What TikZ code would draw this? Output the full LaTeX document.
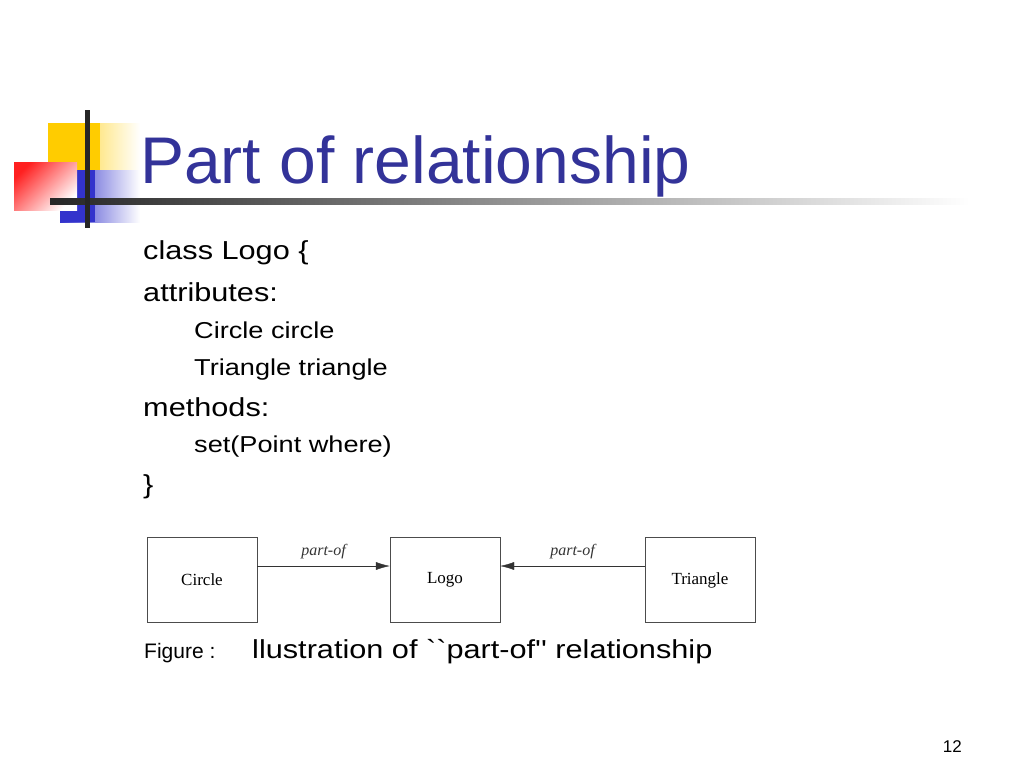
\documentclass[tikz,border=0pt]{standalone}
\usepackage{fontspec}
\setmainfont{Liberation Sans}
\newfontfamily\bodyfont{Liberation Sans}[FakeStretch=1.18]
\newfontfamily\figfont{Liberation Serif}
\usetikzlibrary{positioning, arrows.meta}
\definecolor{TitleBlue}{HTML}{333399}
\definecolor{DecoYellow}{HTML}{FFCC00}
\definecolor{DecoRed}{HTML}{FF2020}
\definecolor{DecoBlue}{HTML}{3333CC}
\tikzset{
  classbox/.style={draw=black!70, minimum width=110pt, minimum height=85pt, inner sep=0pt, font=\fontsize{17}{17}\selectfont\figfont},
  partof/.style={-{Latex[length=14pt,width=8pt]}, black!80},
  body/.style={anchor=base west, inner sep=0pt, font=\fontsize{26}{26}\selectfont\bodyfont},
  sub/.style={anchor=base west, inner sep=0pt, font=\fontsize{23}{23}\selectfont\bodyfont}
}
\begin{document}
\begin{tikzpicture}[x=1pt, y=-1pt]
  \useasboundingbox (0,0) rectangle (1024,768);
  % corner decoration
  \shade[left color=DecoYellow, right color=white] (48,123) rectangle (140,190);
  \fill[DecoYellow] (48,123) rectangle (100,190);
  \shade[left color=DecoBlue, right color=white] (60,170) rectangle (140,222);
  \fill[DecoBlue] (60,170) rectangle (95,222);
  \shade[top color=DecoRed, bottom color=white, shading angle=45] (14,162) rectangle (77,210);
  \shade[left color=black!85, right color=white] (50,198) rectangle (970,204);
  \fill[black!85] (85,110) rectangle (90,228);
  % title
  \node[anchor=base west, inner sep=0pt, text=TitleBlue, font=\fontsize{66}{66}\selectfont] (title) at (140,183) {Part of relationship};
  % class text
  \node[body] (l1) at (143,259) {class Logo \{};
  \node[body] (l2) at (143,301) {attributes:};
  \node[sub] (l3) at (194,338) {Circle circle};
  \node[sub] (l4) at (194,375) {Triangle triangle};
  \node[body] (l5) at (143,416) {methods:};
  \node[sub] (l6) at (194,452) {set(Point where)};
  \node[body] (l7) at (143,493) {\}};
  % figure
  \node[classbox] (circle) at (202,580) {Circle};
  \node[classbox] (logo) at (445,580) {Logo};
  \node[classbox] (triangle) at (700,580) {Triangle};
  \draw[partof] (circle.east |- 0,566) coordinate (c1) -- (logo.west |- 0,566)
    node[midway, above=4pt, font=\fontsize{16}{16}\selectfont\figfont\itshape] {part-of};
  \draw[partof] (triangle.west |- 0,566) coordinate (t1) -- (logo.east |- 0,566)
    node[midway, above=4pt, font=\fontsize{16}{16}\selectfont\figfont\itshape] {part-of};
  \node[anchor=base west, inner sep=0pt, font=\fontsize{21}{21}\selectfont] (figlbl) at (144,658) {Figure :};
  \node[anchor=base west, inner sep=0pt, font=\fontsize{26}{26}\selectfont\bodyfont] (caption) at (252,658) {llustration of \symbol{96}\symbol{96}part-of\symbol{39}\symbol{39} relationship};
  \node[anchor=base east, inner sep=0pt, font=\fontsize{17}{17}\selectfont] (page) at (962,752) {12};
\end{tikzpicture}
\end{document}
